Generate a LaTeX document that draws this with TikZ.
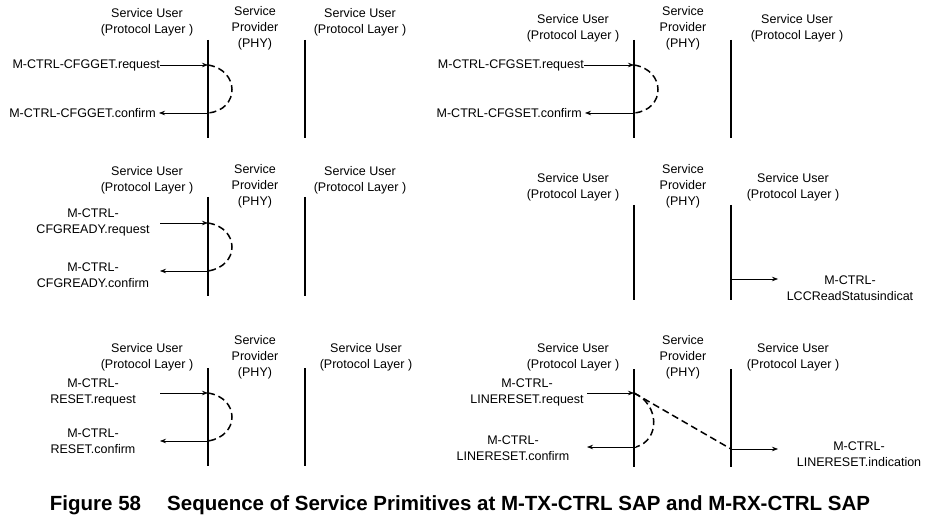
\documentclass[tikz,border=0pt]{standalone}
\usepackage{fontspec}
\setmainfont{Liberation Sans}
\usetikzlibrary{arrows.meta}
\begin{document}
\begin{tikzpicture}[x=1pt,y=-1pt,
  txt/.style={font=\fontsize{12.5}{16}\selectfont,align=center,inner sep=0pt},
  life/.style={line width=1.3pt},
  msg/.style={-{Stealth[length=6pt,width=4.5pt]},line width=0.7pt},
  dsh/.style={dash pattern=on 7pt off 4pt,line width=1.5pt}]
\useasboundingbox (0,0) rectangle (926,521);
% ---------- panel 1 ----------
\node[txt] (h1a) at (147,22) {Service User\\(Protocol Layer )};
\node[txt] (h1b) at (255,28) {Service\\Provider\\(PHY)};
\node[txt] (h1c) at (360,22) {Service User\\(Protocol Layer )};
\coordinate (l1at) at (208,40); \coordinate (l1ab) at (208,138);
\coordinate (l1bt) at (305,40); \coordinate (l1bb) at (305,138);
\draw[life] (l1at) -- (l1ab); \draw[life] (l1bt) -- (l1bb);
\node[txt,anchor=east] (r1) at (160,65) {M-CTRL-CFGGET.request};
\node[txt,anchor=east] (c1) at (156,113) {M-CTRL-CFGGET.confirm};
\coordinate (p1r) at (208,65); \coordinate (p1c) at (208,113);
\draw[msg] (r1.east) -- (p1r);
\draw[msg] (p1c) -- ([xshift=3pt]c1.east);
\draw[dsh] (p1r) .. controls (240,70) and (240,110) .. (p1c);
% ---------- panel 2 ----------
\node[txt] (h2a) at (573,28) {Service User\\(Protocol Layer )};
\node[txt] (h2b) at (683,28) {Service\\Provider\\(PHY)};
\node[txt] (h2c) at (797,28) {Service User\\(Protocol Layer )};
\coordinate (l2at) at (634,40); \coordinate (l2ab) at (634,138);
\coordinate (l2bt) at (731,40); \coordinate (l2bb) at (731,138);
\draw[life] (l2at) -- (l2ab); \draw[life] (l2bt) -- (l2bb);
\node[txt,anchor=east] (r2) at (584,65) {M-CTRL-CFGSET.request};
\node[txt,anchor=east] (c2) at (582,113) {M-CTRL-CFGSET.confirm};
\coordinate (p2r) at (634,65); \coordinate (p2c) at (634,113);
\draw[msg] (r2.east) -- (p2r);
\draw[msg] (p2c) -- ([xshift=3pt]c2.east);
\draw[dsh] (p2r) .. controls (666,70) and (666,110) .. (p2c);
% ---------- panel 3 ----------
\node[txt] (h3a) at (147,180) {Service User\\(Protocol Layer )};
\node[txt] (h3b) at (255,186) {Service\\Provider\\(PHY)};
\node[txt] (h3c) at (360,180) {Service User\\(Protocol Layer )};
\coordinate (l3at) at (208,197); \coordinate (l3ab) at (208,296);
\coordinate (l3bt) at (305,197); \coordinate (l3bb) at (305,296);
\draw[life] (l3at) -- (l3ab); \draw[life] (l3bt) -- (l3bb);
\node[txt] (r3) at (93,222) {M-CTRL-\\CFGREADY.request};
\node[txt] (c3) at (93,275) {M-CTRL-\\CFGREADY.confirm};
\coordinate (r3e) at (160,223); \coordinate (c3e) at (160,271);
\coordinate (p3r) at (208,223); \coordinate (p3c) at (208,271);
\draw[msg] (r3e) -- (p3r);
\draw[msg] (p3c) -- (c3e);
\draw[dsh] (p3r) .. controls (240,228) and (240,266) .. (p3c);
% ---------- panel 4 ----------
\node[txt] (h4a) at (573,187) {Service User\\(Protocol Layer )};
\node[txt] (h4b) at (683,186) {Service\\Provider\\(PHY)};
\node[txt] (h4c) at (793,187) {Service User\\(Protocol Layer )};
\coordinate (l4at) at (634,205); \coordinate (l4ab) at (634,300);
\coordinate (l4bt) at (731,205); \coordinate (l4bb) at (731,300);
\draw[life] (l4at) -- (l4ab); \draw[life] (l4bt) -- (l4bb);
\node[txt] (i4) at (850,288) {M-CTRL-\\LCCReadStatusindicat};
\coordinate (p4i) at (731,279); \coordinate (i4e) at (778,279);
\draw[msg] (p4i) -- (i4e);
% ---------- panel 5 ----------
\node[txt] (h5a) at (147,357) {Service User\\(Protocol Layer )};
\node[txt] (h5b) at (255,357) {Service\\Provider\\(PHY)};
\node[txt] (h5c) at (366,357) {Service User\\(Protocol Layer )};
\coordinate (l5at) at (208,368); \coordinate (l5ab) at (208,466);
\coordinate (l5bt) at (305,368); \coordinate (l5bb) at (305,466);
\draw[life] (l5at) -- (l5ab); \draw[life] (l5bt) -- (l5bb);
\node[txt] (r5) at (93,392) {M-CTRL-\\RESET.request};
\node[txt] (c5) at (93,441) {M-CTRL-\\RESET.confirm};
\coordinate (r5e) at (160,393); \coordinate (c5e) at (160,441);
\coordinate (p5r) at (208,393); \coordinate (p5c) at (208,441);
\draw[msg] (r5e) -- (p5r);
\draw[msg] (p5c) -- (c5e);
\draw[dsh] (p5r) .. controls (240,398) and (240,436) .. (p5c);
% ---------- panel 6 ----------
\node[txt] (h6a) at (573,357) {Service User\\(Protocol Layer )};
\node[txt] (h6b) at (683,357) {Service\\Provider\\(PHY)};
\node[txt] (h6c) at (793,357) {Service User\\(Protocol Layer )};
\coordinate (l6at) at (634,369); \coordinate (l6ab) at (634,467);
\coordinate (l6bt) at (731,369); \coordinate (l6bb) at (731,467);
\draw[life] (l6at) -- (l6ab); \draw[life] (l6bt) -- (l6bb);
\node[txt] (r6) at (527,392) {M-CTRL-\\LINERESET.request};
\node[txt] (c6) at (513,448) {M-CTRL-\\LINERESET.confirm};
\node[txt] (i6) at (859,454) {M-CTRL-\\LINERESET.indication};
\coordinate (r6e) at (587,393); \coordinate (c6e) at (587,447);
\coordinate (p6r) at (634,393); \coordinate (p6c) at (636,447);
\coordinate (p6i) at (731,449); \coordinate (i6e) at (778,449);
\draw[msg] (r6e) -- (p6r);
\draw[msg] (p6c) -- (c6e);
\draw[msg] (p6i) -- (i6e);
\draw[dsh] (p6r) -- (p6i);
\draw[dsh] (p6r) .. controls (660,405) and (660,440) .. (p6c);
% ---------- caption ----------
\node[inner sep=0pt,font=\fontsize{20.5}{24}\selectfont\bfseries] (cap) at (460,505)
  {Figure 58\quad\ Sequence of Service Primitives at M-TX-CTRL SAP and M-RX-CTRL SAP};
\end{tikzpicture}
\end{document}
